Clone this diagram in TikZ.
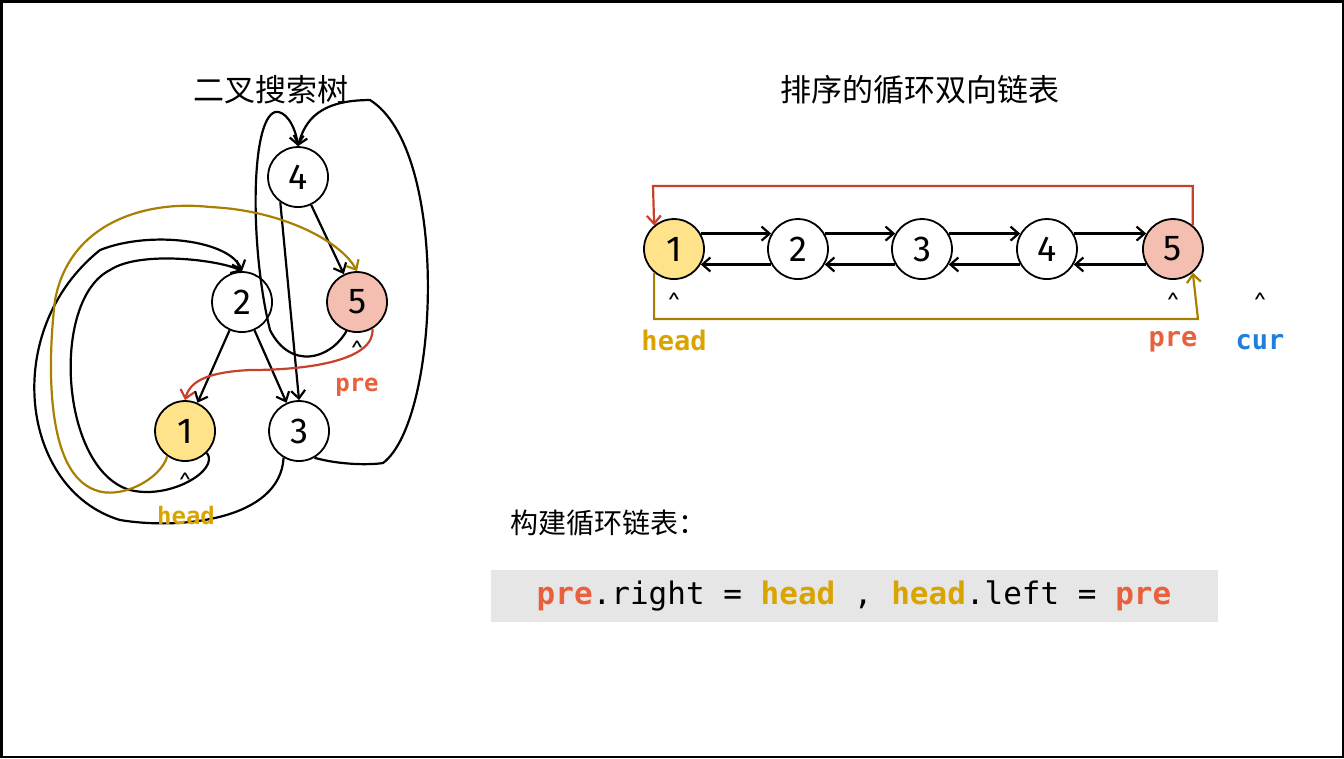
\documentclass[tikz,border=0pt]{standalone}
\usepackage{fontspec}
\setmainfont{Fira Sans}
\newfontfamily\cjk{Noto Sans CJK SC}
\setmonofont{DejaVu Sans Mono}
\usetikzlibrary{arrows.meta}
\definecolor{yel}{HTML}{FFE38A}
\definecolor{pnk}{HTML}{F4BFB0}
\definecolor{redl}{HTML}{C8402A}
\definecolor{oliv}{HTML}{A87F00}
\definecolor{headc}{HTML}{D9A400}
\definecolor{prec}{HTML}{E8603C}
\definecolor{curc}{HTML}{1E7FE0}
\definecolor{boxc}{HTML}{E6E6E6}
\begin{document}
\begin{tikzpicture}[x=1pt,y=-1pt,line width=2pt,
  nd/.style={circle,draw,line width=1.8pt,minimum size=60pt,inner sep=0pt,font=\fontsize{36}{36}\selectfont},
  ar/.style={line width=2.2pt,-{Straight Barb[length=8pt,width=14pt]}},
  lb/.style={font=\ttfamily\bfseries\fontsize{24}{24}\selectfont},
  lb2/.style={font=\ttfamily\bfseries\fontsize{27}{27}\selectfont},
  ct/.style={font=\fontsize{22}{22}\selectfont}]
\draw[line width=2.5pt] (1.2,1.2) rectangle (1342.8,756.8);
\useasboundingbox (0,0) rectangle (1344,758);
\node[font=\cjk\fontsize{31}{31}\selectfont] (t1) at (271,90) {二叉搜索树};
\node[font=\cjk\fontsize{31}{31}\selectfont] (t2) at (920,90) {排序的循环双向链表};
% tree
\node[nd] (a4) at (298,177) {4};
\node[nd] (a2) at (242,302) {2};
\node[nd,fill=pnk] (a5) at (357,302) {5};
\node[nd,fill=yel] (a1) at (185,431) {1};
\node[nd] (a3) at (299,431) {3};
\draw[ar] (a4) -- (a5);
\draw[ar] (a4.235) -- (a3.north);
\draw[ar] (a2) -- (a1);
\draw[ar] (a2) -- (a3);
\draw[ar] (a5.250) .. controls (330,360) and (290,370) .. (270,330) .. controls (250,250) and (250,120) .. (275,112) .. controls (285,110) and (295,125) .. (a4.north);
\draw[ar] (a3.300) .. controls (340,465) and (370,465) .. (383,463) .. controls (440,420) and (450,150) .. (370,100) .. controls (320,100) and (305,120) .. (a4.north);
\draw[ar] (a3.240) .. controls (280,520) and (180,530) .. (120,520) .. controls (20,490) and (0,330) .. (100,250) .. controls (150,230) and (230,240) .. (a2.north);
\draw[ar] (a1.315) .. controls (220,470) and (170,500) .. (130,490) .. controls (60,470) and (50,300) .. (110,270) .. controls (140,250) and (220,260) .. (a2.north);
\draw[ar,oliv] (a1.235) .. controls (160,480) and (120,500) .. (95,490) .. controls (40,470) and (50,340) .. (55,300) .. controls (70,220) and (150,200) .. (210,207) .. controls (280,210) and (340,240) .. (a5.north);
\draw[ar,redl] (a5.300) .. controls (375,360) and (310,370) .. (250,370) .. controls (210,372) and (190,380) .. (a1.north);
\node[ct] (c1) at (357,350) {\^{}};
\node[ct] (c2) at (185,482) {\^{}};
\node[lb,prec] (l1) at (357,387) {pre};
\node[lb,headc] (l2) at (186,516) {head};
% list
\foreach \i/\x/\f in {1/674/yel,2/798/white,3/922/white,4/1047/white,5/1173/pnk}
  \node[nd,fill=\f] (b\i) at (\x,249) {\i};
\foreach \i/\j in {1/2,2/3,3/4,4/5}{
  \draw[ar] (b\i.30) -- (b\j.150);
  \draw[ar] (b\j.210) -- (b\i.330);}
\coordinate (r2) at (653,186);
\draw[ar,redl] (b5.50) |- (r2) -- (b1.130);
\coordinate (o2) at (1198,319);
\draw[ar,oliv] (b1.230) |- (o2) -- (b5.310);
\node[ct] (c3) at (674,302) {\^{}};
\node[ct] (c4) at (1173,302) {\^{}};
\node[ct] (c5) at (1260,302) {\^{}};
\node[lb2,headc] (l3) at (674,340) {head};
\node[lb2,prec] (l4) at (1173,342) {pre};
\node[lb2,curc] (l5) at (1260,342) {cur};
\node[font=\cjk\fontsize{28}{28}\selectfont,anchor=west] (t3) at (506,523) {构建循环链表：};
\node[fill=boxc,minimum width=727pt,minimum height=52pt,inner sep=0pt] (bx) at (854.5,596) {};
\node[font=\ttfamily\fontsize{31}{31}\selectfont] (code) at (854,596) {\textbf{\color{prec}pre}.right = \textbf{\color{headc}head} , \textbf{\color{headc}head}.left = \textbf{\color{prec}pre}};
\end{tikzpicture}
\end{document}
